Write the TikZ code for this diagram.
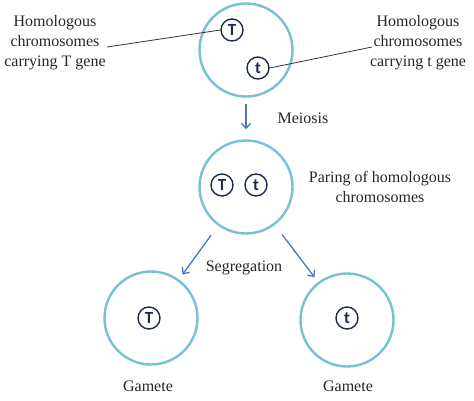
\documentclass[tikz,border=0pt]{standalone}
\usepackage{fontspec}
\setmainfont{Liberation Serif}
\newfontfamily\genefont{Carlito}
\usetikzlibrary{arrows.meta}
\definecolor{cellc}{HTML}{74C2D3}
\definecolor{genec}{HTML}{1C2B4A}
\definecolor{arrc}{HTML}{4A78B5}
\begin{document}
\begin{tikzpicture}[x=1pt,y=-1pt,
  cell/.style={circle,draw=cellc,line width=2.4pt,minimum size=93pt,inner sep=0pt},
  gene/.style={circle,draw=genec,line width=1.4pt,minimum size=22pt,inner sep=0pt,
    text=genec,font=\genefont\bfseries\fontsize{17}{17}\selectfont},
  lbl/.style={font=\fontsize{16}{20}\selectfont,align=center,text=black!85},
  arr/.style={draw=arrc,line width=1.3pt,-{Straight Barb[length=5pt,width=9pt]}},
  lead/.style={draw=black!80,line width=0.8pt}]
\useasboundingbox (0,0) rectangle (474,400);
% cells
\node[cell] (top) at (246,50) {};
\node[cell] (mid) at (246,187) {};
\node[cell] (gl) at (151,318) {};
\node[cell] (gr) at (347,320) {};
% genes
\node[gene] (tT) at (232,30) {T};
\node[gene] (tt) at (258,68) {t};
\node[gene] (mT) at (222,185) {T};
\node[gene] (mt) at (256,185) {t};
\node[gene] (gT) at (149,318) {T};
\node[gene] (gt) at (347,318) {t};
% labels
\node[lbl] (lt) at (55,43) {Homologous\\chromosomes\\carrying T gene};
\node[lbl] (rt) at (418,43) {Homologous\\chromosomes\\carrying t gene};
\node[lbl] (meio) at (303,118) {Meiosis};
\node[lbl] (pair) at (380,187) {Paring of homologous\\chromosomes};
\node[lbl] (seg) at (244,268) {Segregation};
\node[lbl] (gaml) at (148,386) {Gamete};
\node[lbl] (gamr) at (348,386) {Gamete};
% leader lines
\coordinate (lA) at (107,47);
\coordinate (rA) at (372,47);
\draw[lead] (lA) -- (tT.west);
\draw[lead] (tt.east) -- (rA);
% arrows
\draw[arr,shorten <=6pt,shorten >=10pt] (top) -- (mid);
\draw[arr,shorten <=12pt,shorten >=6pt] (mid) -- (gl);
\draw[arr,shorten <=12pt,shorten >=6pt] (mid) -- (gr);
\end{tikzpicture}
\end{document}
